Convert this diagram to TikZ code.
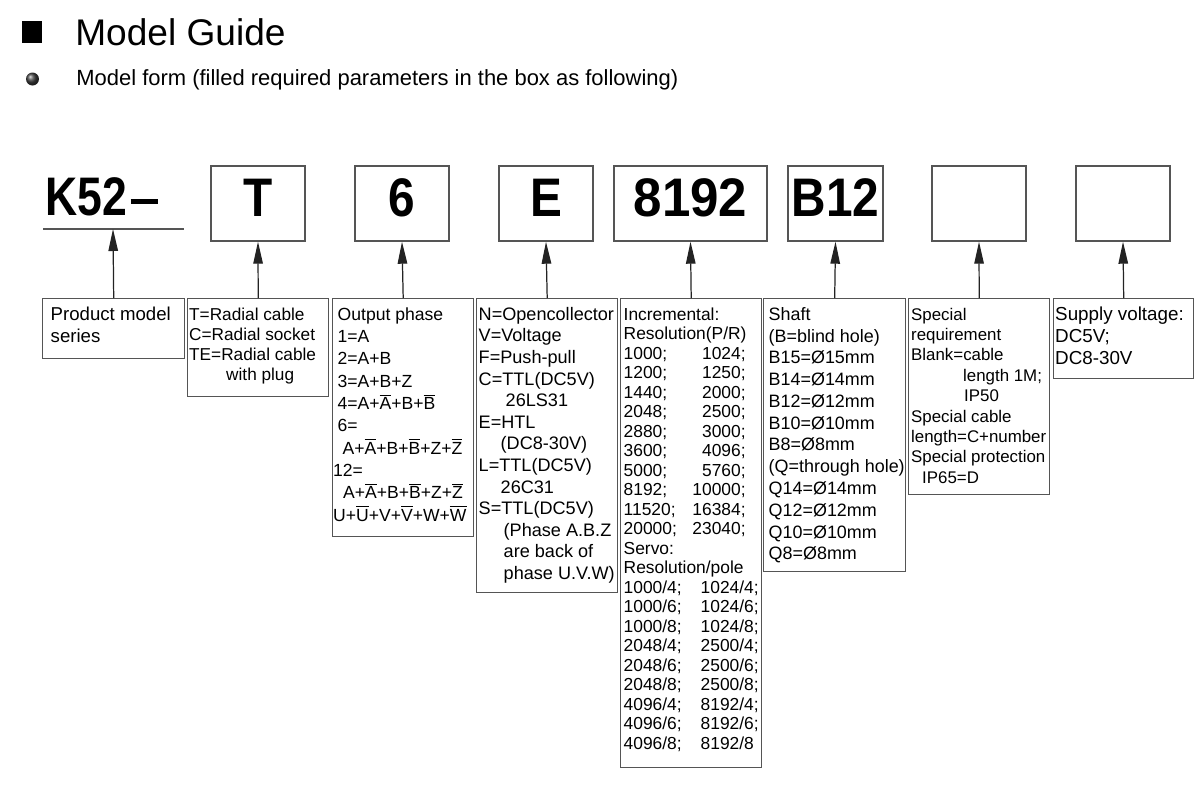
\documentclass[tikz,border=0pt]{standalone}
\usepackage{fontspec}
\setmainfont{Liberation Sans}
\usepackage{graphicx}
\usetikzlibrary{arrows.meta, positioning}
\definecolor{abugaris}{RGB}{85,85,85}
\definecolor{hitampanah}{RGB}{35,35,35}

\newcommand{\ovl}[1]{\ensuremath{\overline{\mbox{#1}}}}
\newcommand{\dpar}[4]{\parbox[t][#2][t]{#1}{\leftskip=#3\relax\rightskip=-2cm plus 1fil\relax
  \parindent=0pt\hyphenpenalty=10000\rule{0pt}{4.3mm}#4}}
\newcommand{\respair}[2]{\makebox[24.4mm][l]{#1\hfill#2}}
\newcommand{\polepair}[2]{\makebox[15.4mm][l]{#1}#2}
\newcommand{\biglbl}[2][0.88]{\scalebox{#1}[1]{#2}}

\begin{document}
\begin{tikzpicture}[x=0.2mm, y=-0.2mm,
    kotak/.style={draw=abugaris, line width=0.8pt, inner sep=0pt, minimum height=15mm,
      text height=10.1mm, text depth=4.9mm, font=\fontsize{30.9}{31}\selectfont\bfseries},
    ket/.style={draw=abugaris, line width=0.8pt, inner sep=0pt, anchor=north west},
    panah/.style={draw=hitampanah, line width=0.7pt, -{Triangle[length=4.4mm, width=1.9mm]}}]
    \useasboundingbox (0,0) rectangle (1199,790);

    % judul
    \fill (22,21) rectangle (42,43);
    \node[anchor=base west, inner sep=0pt, font=\fontsize{21.1}{24}\selectfont] (judul) at (75,45) {Model Guide};
    \shade[ball color=black!75] (32.5,79) circle (6.5);
    \node[anchor=base west, inner sep=0pt, font=\fontsize{12.5}{15}\selectfont] (subjudul) at (76,85)
      {Model form (filled required parameters in the box as following)};

    % kode model
    \node[anchor=base west, inner sep=0pt, font=\fontsize{30.9}{31}\selectfont\bfseries] (kser) at (45,215)
      {\biglbl[0.82]{K52}\hspace{0.7mm}\rule[2.2mm]{5.4mm}{1.1mm}};
    \draw[abugaris, line width=0.8pt] (43,229) -- (184,229);
    \coordinate (kgaris) at (113,229);
    \foreach \nm/\x/\w/\sx/\lbl in {type/258/18.8/0.88/T, phase/402/18.8/0.88/6, outp/546/18.8/0.88/E,
        res/690.5/30.6/0.94/8192, shaft/835.5/19/0.88/B12, spec/979/18.8/0.88/, volt/1123/18.8/0.88/}
        \node[kotak, minimum width=\w mm] (k\nm) at (\x,203.5) {\biglbl[\sx]{\lbl}};

    % keterangan
    \node[ket, font=\fontsize{10.6}{12.5}\selectfont] (dser) at (42,298)
      {\dpar{28.4mm}{12mm}{1.6mm}{Product model\\series}};
    \node[ket, font=\fontsize{9.8}{11.5}\selectfont] (dtype) at (187,298)
      {\dpar{28.2mm}{19.6mm}{0.3mm}{T=Radial cable\\C=Radial socket\\TE=Radial cable\\\hspace*{7.4mm}with plug}};
    \node[ket, font=\fontsize{10}{12.7}\selectfont] (dphase) at (332,298)
      {\dpar{28.2mm}{47.6mm}{1mm}{Output phase\\1=A\\2=A+B\\3=A+B+Z\\4=A+\ovl{A}+B+\ovl{B}\\6=\\
      \hspace*{1mm}A+\ovl{A}+B+\ovl{B}+Z+\ovl{Z}\\\hspace*{-0.9mm}12=\\
      \hspace*{1.1mm}A+\ovl{A}+B+\ovl{B}+Z+\ovl{Z}\\\hspace*{-0.9mm}U+\ovl{U}+V+\ovl{V}+W+\ovl{W}}};
    \node[ket, font=\fontsize{10.3}{12.3}\selectfont] (doutp) at (476,298)
      {\dpar{28.2mm}{58.8mm}{0.4mm}{N=Opencollector\\V=Voltage\\F=Push-pull\\C=TTL(DC5V)\\
      \hspace*{5.4mm}26LS31\\E=HTL\\\hspace*{4.4mm}(DC8-30V)\\L=TTL(DC5V)\\\hspace*{4.4mm}26C31\\
      S=TTL(DC5V)\\\hspace*{5mm}(Phase A.B.Z\\\hspace*{5mm}are back of\\\hspace*{5mm}phase U.V.W)}};
    \node[ket, font=\fontsize{9.9}{11.1}\selectfont] (dres) at (620,298)
      {\dpar{28.2mm}{93.8mm}{0.6mm}{Incremental:\\Resolution(P/R)\\
      \respair{1000;}{1024;}\\\respair{1200;}{1250;}\\\respair{1440;}{2000;}\\
      \respair{2048;}{2500;}\\\respair{2880;}{3000;}\\\respair{3600;}{4096;}\\
      \respair{5000;}{5760;}\\\respair{8192;}{10000;}\\\respair{11520;}{16384;}\\
      \respair{20000;}{23040;}\\Servo:\\Resolution/pole\\
      \polepair{1000/4;}{1024/4;}\\\polepair{1000/6;}{1024/6;}\\\polepair{1000/8;}{1024/8;}\\
      \polepair{2048/4;}{2500/4;}\\\polepair{2048/6;}{2500/6;}\\\polepair{2048/8;}{2500/8;}\\
      \polepair{4096/4;}{8192/4;}\\\polepair{4096/6;}{8192/6;}\\\polepair{4096/8;}{8192/8}}};
    \node[ket, font=\fontsize{10.2}{12.4}\selectfont] (dshaft) at (763,298)
      {\dpar{28.4mm}{54.6mm}{1mm}{Shaft\\(B=blind hole)\\B15=Ø15mm\\B14=Ø14mm\\B12=Ø12mm\\
      B10=Ø10mm\\B8=Ø8mm\\(Q=through hole)\\Q14=Ø14mm\\Q12=Ø12mm\\Q10=Ø10mm\\Q8=Ø8mm}};
    \node[ket, font=\fontsize{9.6}{11.6}\selectfont] (dspec) at (908,298)
      {\dpar{28.2mm}{39.2mm}{0.5mm}{Special\\requirement\\Blank=cable\\\hspace*{10.4mm}length 1M;\\
      \hspace*{10.6mm}IP50\\Special cable\\length=C+number\\Special protection\\\hspace*{2.2mm}IP65=D}};
    \node[ket, font=\fontsize{10.7}{12.5}\selectfont] (dvolt) at (1053,298)
      {\dpar{28mm}{16mm}{0.3mm}{Supply voltage:\\DC5V;\\DC8-30V}};

    % panah
    \draw[panah] (dser.north) -- (kgaris);
    \foreach \nm in {type,phase,outp,res,shaft,spec,volt}
        \draw[panah] (d\nm.north) -- (k\nm.south);
\end{tikzpicture}
\end{document}
